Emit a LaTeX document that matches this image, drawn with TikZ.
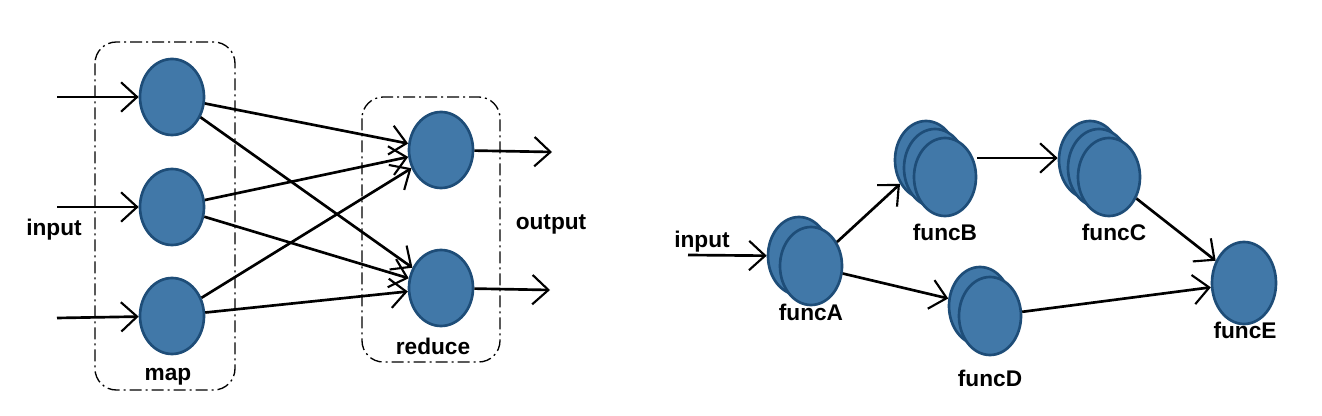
\documentclass[tikz,border=0pt]{standalone}
\usepackage{fontspec}
\setmainfont{Liberation Sans}
\usetikzlibrary{shapes.geometric,arrows.meta}
\definecolor{nfill}{HTML}{4178A8}
\definecolor{nline}{HTML}{1E4D78}
\begin{document}
\begin{tikzpicture}[x=0.75pt,y=-0.75pt,
  nd/.style={ellipse,draw=nline,fill=nfill,line width=2pt,minimum width=64*0.75pt,minimum height=76*0.75pt,inner sep=0pt},
  sn/.style={ellipse,draw=nline,fill=nfill,line width=2pt,minimum width=62*0.75pt,minimum height=78*0.75pt,inner sep=0pt},
  ar/.style={line width=2pt,-{Straight Barb[length=12pt,width=22pt,line width=1.6pt]}},
  bx/.style={draw,line width=1pt,dash pattern=on 9pt off 3pt on 1.5pt off 3pt,rounded corners=16pt},
  lb/.style={font=\fontsize{17}{20}\selectfont\bfseries,inner sep=1pt}]
\useasboundingbox (0,0) rectangle (1322,416);
% left
\draw[bx] (95,42) rectangle (235,390);
\draw[bx] (362,97) rectangle (500,362);
\node[nd] (m1) at (172,97) {};
\node[nd] (m2) at (172,207) {};
\node[nd] (m3) at (172,316) {};
\node[nd] (r1) at (441,150) {};
\node[nd] (r2) at (441,288) {};
\coordinate (i1) at (57,97);
\coordinate (i2) at (57,207);
\coordinate (i3) at (57,318);
\coordinate (o1) at (552,152);
\coordinate (o2) at (550,290);
\draw[ar] (i1) -- (m1);
\draw[ar] (i2) -- (m2);
\draw[ar] (i3) -- (m3);
\foreach \a in {m1,m2,m3}{\draw[ar] (\a) -- (r1); \draw[ar] (\a) -- (r2);}
\draw[ar] (r1) -- (o1);
\draw[ar] (r2) -- (o2);
\node[lb] (tin) at (54,230) {input};
\node[lb] (tout) at (551,224) {output};
\node[lb] (tmap) at (168,377) {map};
\node[lb] (tred) at (433,346) {reduce};
% right
\node[sn] (a1) at (799,256) {};
\node[sn] (a2) at (811,266) {};
\node[sn] (b1) at (926,160) {};
\node[sn] (b2) at (935,168) {};
\node[sn] (b3) at (945,177) {};
\node[sn] (c1) at (1090,160) {};
\node[sn] (c2) at (1099,168) {};
\node[sn] (c3) at (1109,177) {};
\node[sn] (d1) at (980,306) {};
\node[sn] (d2) at (990,316) {};
\node[sn,minimum width=64*0.75pt,minimum height=82*0.75pt] (e) at (1244,283) {};
\coordinate (rin) at (688,255);
\draw[ar] (rin) -- (a1);
\draw[ar] (a2) -- (b1);
\draw[ar] (b3.east |- 0,158) -- (c1.west |- 0,158);
\draw[ar] (a2) -- (d1);
\draw[ar] (d2) -- (e);
\draw[ar] (c3) -- (e);
\node[lb] (ta) at (811,312) {funcA};
\node[lb] (tb) at (945,232) {funcB};
\node[lb] (tc) at (1114,232) {funcC};
\node[lb] (td) at (990,378) {funcD};
\node[lb] (te) at (1245,330) {funcE};
\node[lb] (tin2) at (702,242) {input};
\end{tikzpicture}
\end{document}
